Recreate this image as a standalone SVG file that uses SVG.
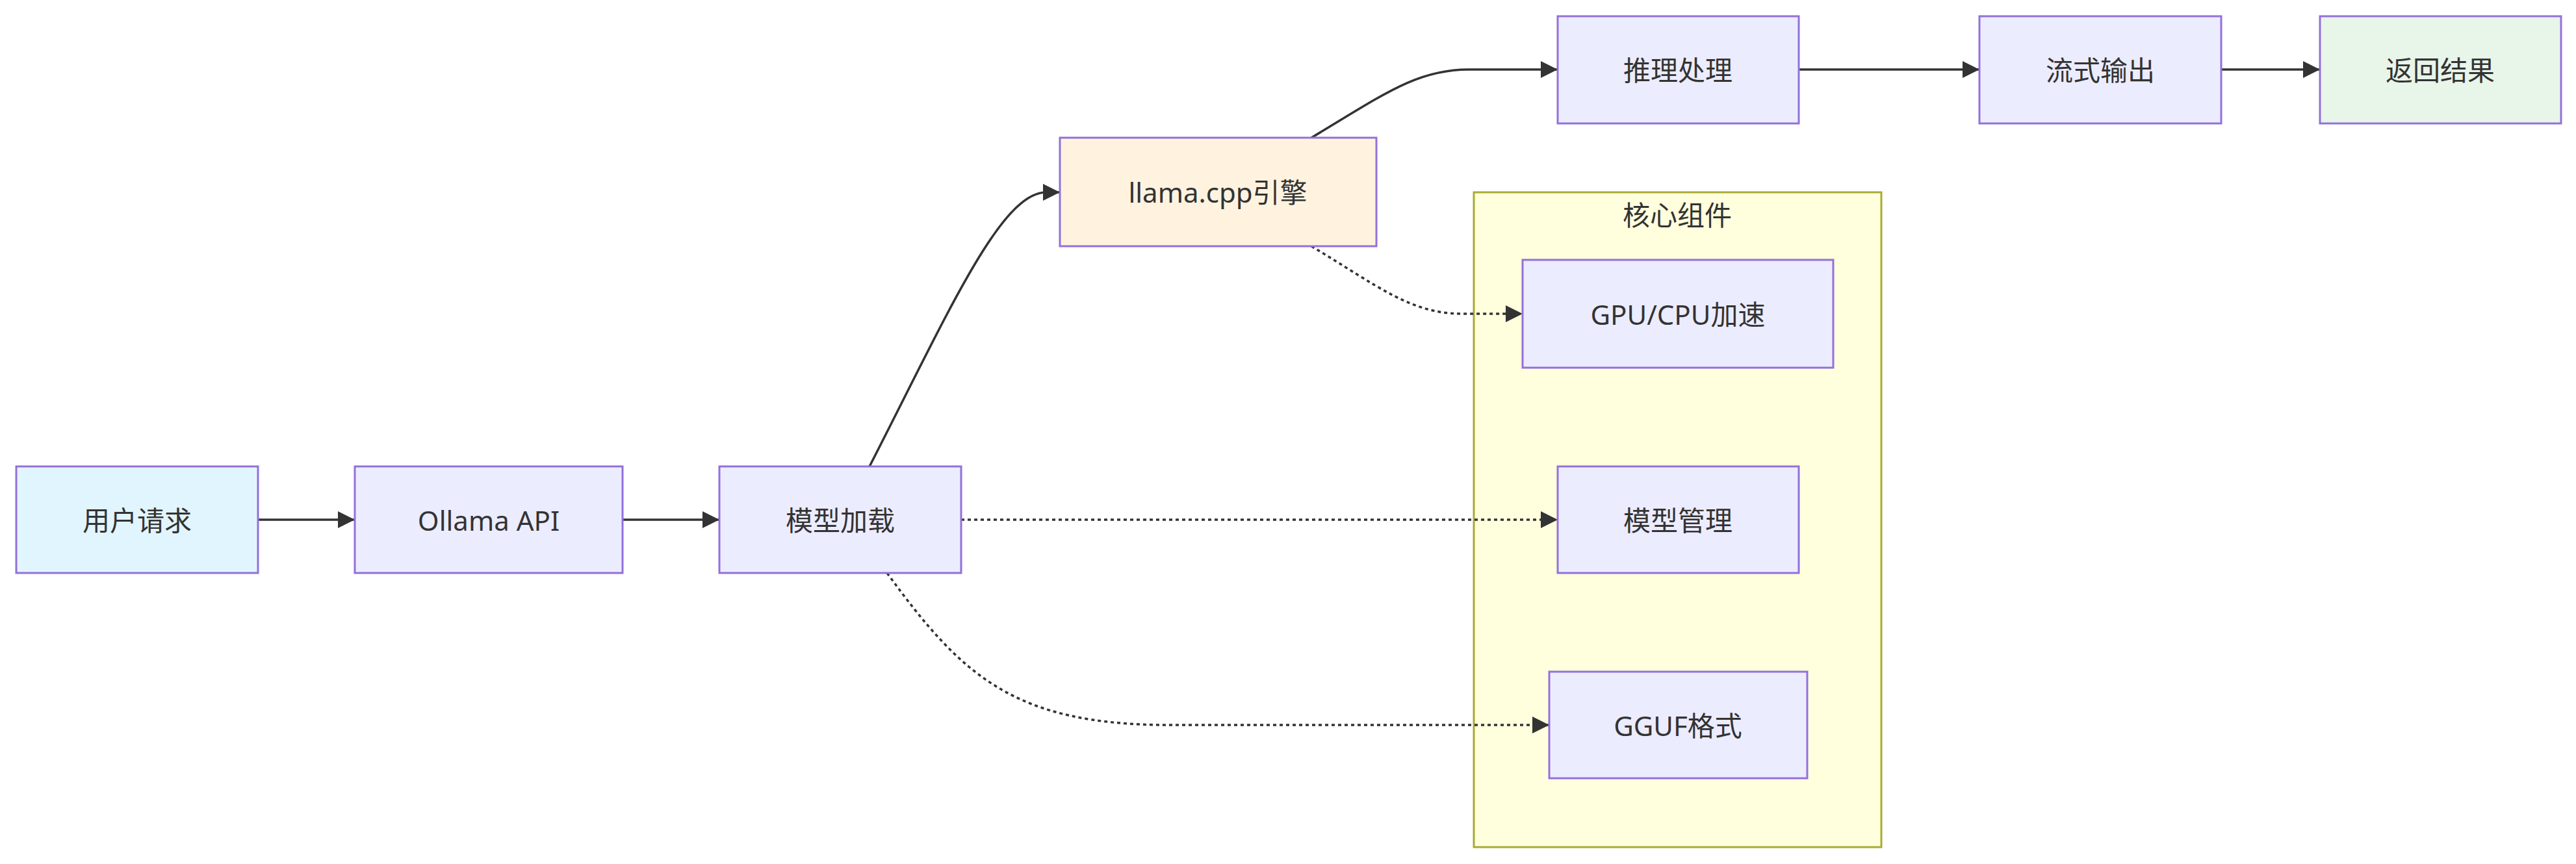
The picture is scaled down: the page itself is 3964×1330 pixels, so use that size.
<svg xmlns="http://www.w3.org/2000/svg" width="3964" height="1330" viewBox="0 0 3964 1330">
<style>
.n{fill:#ECECFF;stroke:#9370DB;stroke-width:3}
.t{font-family:"Noto Sans","Noto Sans CJK SC",sans-serif;font-size:42px;fill:#333;text-anchor:middle;dominant-baseline:central}
.e{fill:none;stroke:#333;stroke-width:3.5}
.d{stroke-dasharray:5 5}
</style>
<defs>
<marker id="a" viewBox="0 0 10 10" refX="9" refY="5" markerWidth="7" markerHeight="7" markerUnits="userSpaceOnUse" orient="auto" style="overflow:visible">
<path d="M0,0L10,5L0,10z" fill="#333" transform="scale(2.6) translate(-6,-3.1)"/>
</marker>
<marker id="b" viewBox="0 0 10 10" refX="10" refY="5" markerWidth="26" markerHeight="26" markerUnits="userSpaceOnUse" orient="auto">
<path d="M0,0L10,5L0,10z" fill="#333"/>
</marker>
</defs>
<g id="cluster">
<rect x="2268" y="296" width="627" height="1008" fill="#FFFFDE" stroke="#AAAA33" stroke-width="3"/>
<text class="t" x="2581" y="330">核心组件</text>
</g>
<g id="connectors">
<path class="e" d="M397,800L546,800" marker-end="url(#b)"/>
<path class="e" d="M958,800L1107,800" marker-end="url(#b)"/>
<path class="e" d="M1338,718C1460,480 1540,296 1610,296L1631,296" marker-end="url(#b)"/>
<path class="e" d="M2018,212C2130,145 2180,107 2260,107L2397,107" marker-end="url(#b)"/>
<path class="e" d="M2768,107L3046,107" marker-end="url(#b)"/>
<path class="e" d="M3418,107L3570,107" marker-end="url(#b)"/>
<path class="e d" d="M2018,379C2120,440 2170,483 2250,483L2343,483" marker-end="url(#b)"/>
<path class="e d" d="M1479,800L2397,800" marker-end="url(#b)"/>
<path class="e d" d="M1365,882C1480,1040 1560,1116 1800,1116L2384,1116" marker-end="url(#b)"/>
</g>
<g id="n1"><rect x="25" y="718" width="372" height="164" fill="#E1F5FE" stroke="#9370DB" stroke-width="3"/><text class="t" x="211" y="800">用户请求</text></g>
<g id="n2"><rect class="n" x="546" y="718" width="412" height="164"/><text class="t" x="752" y="800">Ollama API</text></g>
<g id="n3"><rect class="n" x="1107" y="718" width="372" height="164"/><text class="t" x="1293" y="800">模型加载</text></g>
<g id="n4"><rect x="1631" y="212" width="487" height="167" fill="#FFF3E0" stroke="#9370DB" stroke-width="3"/><text class="t" x="1874" y="295">llama.cpp引擎</text></g>
<g id="n5"><rect class="n" x="2397" y="25" width="371" height="165"/><text class="t" x="2582" y="107">推理处理</text></g>
<g id="n6"><rect class="n" x="3046" y="25" width="372" height="165"/><text class="t" x="3232" y="107">流式输出</text></g>
<g id="n7"><rect x="3570" y="25" width="371" height="165" fill="#E8F5E9" stroke="#9370DB" stroke-width="3"/><text class="t" x="3755" y="107">返回结果</text></g>
<g id="n8"><rect class="n" x="2343" y="400" width="478" height="166"/><text class="t" x="2582" y="483">GPU/CPU加速</text></g>
<g id="n9"><rect class="n" x="2397" y="718" width="371" height="164"/><text class="t" x="2582" y="800">模型管理</text></g>
<g id="n10"><rect class="n" x="2384" y="1034" width="397" height="164"/><text class="t" x="2582" y="1116">GGUF格式</text></g>
</svg>
